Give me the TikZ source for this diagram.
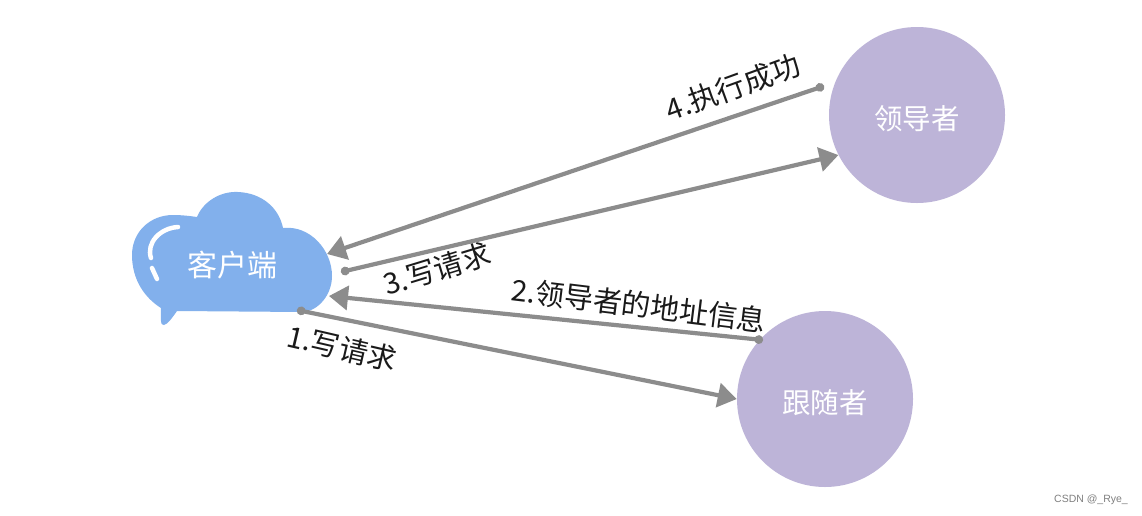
\documentclass[tikz,border=0pt]{standalone}
\usepackage{fontspec}
\usetikzlibrary{arrows.meta}
\newfontfamily\cjk{Noto Sans CJK SC}
\setsansfont{Liberation Sans}
\definecolor{cloudblue}{HTML}{82B0EC}
\definecolor{rolepurple}{HTML}{BDB4D8}
\definecolor{linkgray}{HTML}{8C8C8C}
\definecolor{labelink}{HTML}{1A1A1A}
\tikzset{
  x=1pt,y=-1pt,
  role/.style={circle,fill=rolepurple,minimum size=176pt,inner sep=0pt,text=white,font=\cjk\fontsize{28.5}{28.5}\selectfont},
  clienttext/.style={text=white,inner sep=0pt,font=\cjk\fontsize{30}{30}\selectfont},
  link/.style={draw=linkgray,line width=4.2pt,{Circle[length=8.5pt,width=8.5pt]}-{Triangle[length=19pt,width=24pt]}},
  steplabel/.style={text=labelink,inner sep=0pt,font=\cjk\fontsize{29}{29}\selectfont},
  gleam/.style={draw=white,line width=4.5pt,line cap=round},
}
\begin{document}
\begin{tikzpicture}
\useasboundingbox (0,0) rectangle (1142,515);
\fill[white] (0,0) rectangle (1142,515);
% cloud
\fill[cloudblue] (177,311)
  .. controls (172,318) and (168,324) .. (164,325)
  .. controls (160,326) and (161,318) .. (161,308)
  .. controls (145,298) and (132,280) .. (132,255)
  .. controls (132,232) and (150,215) .. (173,215)
  .. controls (182,215) and (190,216) .. (197,217)
  .. controls (203,202) and (220,191) .. (238,192)
  .. controls (262,193) and (279,208) .. (283,228)
  .. controls (310,225) and (332,250) .. (332,276)
  .. controls (332,295) and (318,311) .. (303,312)
  -- cycle;
\draw[gleam] (178,227) .. controls (160,228) and (146,243) .. (151,258);
\draw[gleam] (152,268) -- (157,279);
\node[clienttext] (client) at (232,265) {客户端};
\node[role] (leader) at (917,115) {\rule{0pt}{31pt}领导者};
\node[role] (follower) at (825,399) {\rule{0pt}{31pt}跟随者};
\coordinate (clientOutA) at (297,310);
\coordinate (clientOutB) at (341,272);
\coordinate (clientInA) at (329,296);
\coordinate (clientInB) at (327,254);
\coordinate (leaderOut) at (824,86);
\coordinate (followerOut) at (763,340);
\draw[link] (clientOutA) -- (follower.west);
\draw[link] (followerOut) -- (clientInA);
\draw[link] (clientOutB) -- (leader.207);
\draw[link] (leaderOut) -- (clientInB);
\node[steplabel,rotate=-13] (one) at (342,348) {1.写请求};
\node[steplabel,rotate=-7] (two) at (639,305) {2.领导者的地址信息};
\node[steplabel,rotate=17] (three) at (437,269) {3.写请求};
\node[steplabel,rotate=20] (four) at (733,87) {4.执行成功};
\node[font=\sffamily\fontsize{10.5}{10.5}\selectfont,text=gray,inner sep=0pt] (mark) at (1091,500) {CSDN @\_Rye\_};
\end{tikzpicture}
\end{document}
